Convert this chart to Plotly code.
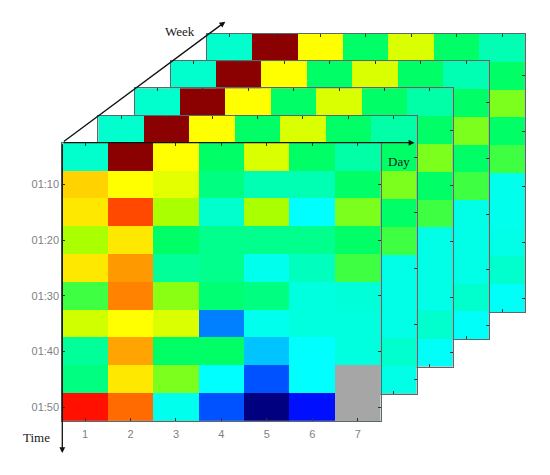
import plotly.graph_objects as go

# value per cell, 0 = low (dark blue) ... 1 = high (dark red)
days = [1, 2, 3, 4, 5, 6, 7]
times = ["01:05", "01:10", "01:15", "01:20", "01:25",
         "01:30", "01:35", "01:40", "01:45", "01:50"]
time_ticks = ["01:10", "01:20", "01:30", "01:40", "01:50"]

# week 1 is the front sheet, fully visible (None = missing, drawn grey)
week1 = [
    [0.42, 1.00, 0.70, 0.50, 0.66, 0.50, 0.45],
    [0.74, 0.70, 0.67, 0.48, 0.44, 0.44, 0.50],
    [0.72, 0.86, 0.61, 0.42, 0.61, 0.34, 0.58],
    [0.61, 0.72, 0.50, 0.47, 0.47, 0.47, 0.50],
    [0.72, 0.79, 0.46, 0.47, 0.37, 0.43, 0.54],
    [0.54, 0.81, 0.59, 0.49, 0.48, 0.39, 0.40],
    [0.65, 0.70, 0.66, 0.21, 0.37, 0.39, 0.39],
    [0.46, 0.78, 0.50, 0.50, 0.28, 0.34, 0.39],
    [0.48, 0.72, 0.58, 0.34, 0.16, 0.34, None],
    [0.91, 0.83, 0.37, 0.16, 0.00, 0.09, None],
]

# weeks 2-5 sit behind: only the first time slot and day 7 can be seen
week2_top = [0.42, 1.00, 0.70, 0.50, 0.66, 0.50, 0.45]
week3_top = [0.42, 1.00, 0.70, 0.50, 0.66, 0.50, 0.45]
week4_top = [0.42, 1.00, 0.70, 0.50, 0.66, 0.50, 0.44]
week5_top = [0.42, 1.00, 0.70, 0.50, 0.66, 0.50, 0.44]

week2_day7 = [0.50, 0.58, 0.50, 0.54, 0.38, 0.38, 0.38, 0.42, 0.38]
week3_day7 = [0.50, 0.58, 0.50, 0.54, 0.38, 0.38, 0.38, 0.42, 0.35]
week4_day7 = [0.50, 0.58, 0.50, 0.54, 0.38, 0.38, 0.38, 0.42, 0.35]
week5_day7 = [0.50, 0.58, 0.50, 0.54, 0.37, 0.37, 0.38, 0.42, 0.35]


def back_sheet(top, day7):
    z = [list(top)]
    for v in day7:
        z.append([None] * 6 + [v])
    return z


sheets = [
    back_sheet(week5_top, week5_day7),
    back_sheet(week4_top, week4_day7),
    back_sheet(week3_top, week3_day7),
    back_sheet(week2_top, week2_day7),
    week1,
]

colors = [
    [0.00, "#000080"], [0.09, "#0010ff"], [0.21, "#0080ff"],
    [0.34, "#00ffff"], [0.42, "#00ffcc"], [0.50, "#00ff66"],
    [0.61, "#aaff00"], [0.70, "#ffff00"], [0.79, "#ff9900"],
    [0.91, "#ff1000"], [1.00, "#8b0000"],
]

# the page puts the figure 8px in from the top-left corner
PAD = 8
W, H = 550 - PAD, 475 - PAD
left, right, top, bottom = 62.3 - PAD, 380.5 - PAD, 142.7 - PAD, 421.0 - PAD
shift_x, shift_y = 36.1, 27.2

fig = go.Figure()
layout = {}
n = len(sheets)
for i, z in enumerate(sheets):
    k = n - 1 - i  # how far back this sheet is
    sfx = "" if i == 0 else str(i + 1)
    front = k == 0
    fig.add_trace(go.Heatmap(
        z=z, x=days, y=times, colorscale=colors, zmin=0, zmax=1,
        showscale=False, hoverinfo="skip",
        xaxis="x" + sfx, yaxis="y" + sfx))
    layout["xaxis" + sfx] = dict(
        domain=[(left + k * shift_x) / W, (right + k * shift_x) / W],
        anchor="y" + sfx, range=[0.5, 7.5], tickvals=days,
        ticks="inside", ticklen=3, tickcolor="#333333", mirror="ticks",
        showline=True, linecolor="#5a6a6a", linewidth=1,
        showgrid=False, zeroline=False, showticklabels=front,
        ticklabelstandoff=3,
        tickfont=dict(family="Liberation Sans", size=11, color="#7f7f7f"),
        fixedrange=True)
    layout["yaxis" + sfx] = dict(
        domain=[(H - bottom + k * shift_y) / H, (H - top + k * shift_y) / H],
        anchor="x" + sfx, type="category", categoryarray=times,
        range=[9.5, -0.5], tickvals=time_ticks,
        ticks="inside", ticklen=3, tickcolor="#333333", mirror="ticks",
        showline=True, linecolor="#5a6a6a", linewidth=1,
        showgrid=False, zeroline=False, showticklabels=front,
        tickfont=dict(family="Liberation Sans", size=11, color="#7f7f7f"),
        fixedrange=True)

fig.update_layout(**layout)


def arrow(tip_x, tip_y, tail_x, tail_y):
    fig.add_annotation(
        x=(tip_x - PAD) / W, y=1 - (tip_y - PAD) / H,
        xref="paper", yref="paper",
        ax=tail_x - tip_x, ay=tail_y - tip_y, text="", showarrow=True,
        arrowhead=2, arrowsize=0.9, arrowwidth=1.3, arrowcolor="#111111",
        standoff=0, startstandoff=0)


arrow(225.3, 21.7, 62.3, 142.7)     # week
arrow(414.5, 142.7, 62.3, 142.7)    # day
arrow(62.3, 453.0, 62.3, 142.7)     # time


def label(text, x, y):
    fig.add_annotation(
        x=(x - PAD) / W, y=1 - (y - PAD) / H, xref="paper", yref="paper",
        xanchor="center", yanchor="middle", text=text, showarrow=False,
        font=dict(family="Liberation Serif", size=13, color="#1a1a1a"))


label("Week", 180, 32)
label("Day", 399, 161)
label("Time", 36, 437)

fig.update_layout(
    width=W, height=H, margin=dict(l=0, r=0, t=0, b=0),
    paper_bgcolor="white", plot_bgcolor="#a6a6a6", showlegend=False)

fig.write_html("out.html")
